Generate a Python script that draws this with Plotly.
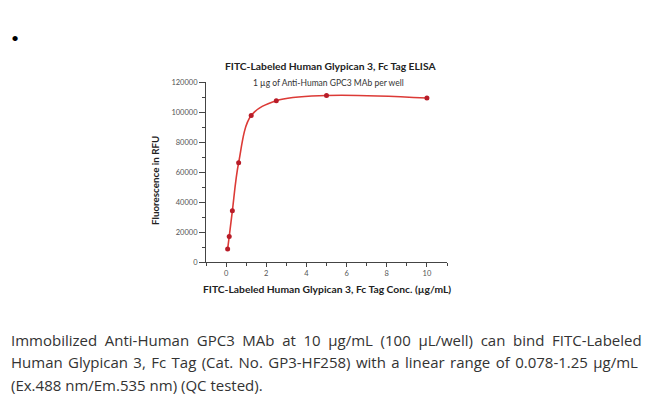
import plotly.graph_objects as go

# ---- data ----
conc = [0.078, 0.156, 0.3125, 0.625, 1.25, 2.5, 5, 10]
rfu = [8700, 17000, 34100, 66200, 97600, 107500, 111000, 109300]
x_ticks = [0, 2, 4, 6, 8, 10]
y_ticks = [0, 20000, 40000, 60000, 80000, 100000, 120000]

title_text = "FITC-Labeled Human Glypican 3, Fc Tag ELISA"
subtitle_text = "1 µg of Anti-Human GPC3 MAb per well"
x_title = "FITC-Labeled Human Glypican 3, Fc Tag Conc. (µg/mL)"
y_title = "Fluorescence in RFU"

caption_lines = [
    "Immobilized Anti-Human GPC3 MAb at 10 µg/mL (100 µL/well) can bind FITC-Labeled",
    "Human Glypican 3, Fc Tag (Cat. No. GP3-HF258) with a linear range of 0.078-1.25 µg/mL",
    "(Ex.488 nm/Em.535 nm) (QC tested).",
]
# extra inter-word spacing per line (to mimic justified text)
caption_gap = ["\u00a0\u2005", "\u00a0\u200a", " "]
line_y = [340, 362, 385]

W, H = 650, 399
L, R, T, B = 206, 203, 82, 137
PW, PH = W - L - R, H - T - B


def px(x):
    return (x - L) / PW


def py(y):
    return (H - B - y) / PH


fig = go.Figure()
fig.add_trace(go.Scatter(
    x=conc, y=rfu, mode="lines+markers",
    line=dict(color="#dc3a36", width=1.6, shape="spline", smoothing=1.0),
    marker=dict(color="#b81c28", size=5),
    showlegend=False, hoverinfo="skip"))

font_tick = dict(family="Lato", size=7.5, color="#555555")
fig.update_xaxes(
    range=[-1, 11], tickvals=x_ticks, ticks="outside", ticklen=4, tickwidth=1,
    tickcolor="#444444", linecolor="#444444", linewidth=1, showline=True,
    showgrid=False, zeroline=False, tickfont=font_tick,
    minor=dict(dtick=1, tick0=1, ticks="outside", ticklen=2.5, tickcolor="#444444"),
    mirror=False)
fig.update_yaxes(
    range=[0, 120000], tickvals=y_ticks, tickformat="d", ticks="outside", ticklen=6, tickwidth=1,
    tickcolor="#444444", linecolor="#444444", linewidth=1, showline=True,
    showgrid=False, zeroline=False, tickfont=font_tick,
    minor=dict(dtick=10000, ticks="outside", ticklen=3, tickcolor="#444444"))

ann = []
ann.append(dict(text="<b>" + title_text + "</b>", x=px(330), y=py(66), xref="paper", yref="paper",
                showarrow=False, xanchor="center", yanchor="middle",
                font=dict(family="Lato", size=10.3, color="#222222")))
ann.append(dict(text=subtitle_text, x=px(328), y=py(83), xref="paper", yref="paper",
                showarrow=False, xanchor="center", yanchor="middle",
                font=dict(family="Lato", size=8.5, color="#333333")))
ann.append(dict(text="<b>" + x_title + "</b>", x=px(326.5), y=py(289), xref="paper", yref="paper",
                showarrow=False, xanchor="center", yanchor="middle",
                font=dict(family="Lato", size=10.3, color="#222222")))
ann.append(dict(text="<b>" + y_title + "</b>", x=px(155), y=py(181), xref="paper", yref="paper",
                showarrow=False, xanchor="center", yanchor="middle", textangle=-90,
                font=dict(family="Lato", size=9.8, color="#222222")))
ann.append(dict(text="•", x=px(15), y=py(37), xref="paper", yref="paper",
                showarrow=False, xanchor="center", yanchor="middle",
                font=dict(family="Lato", size=14, color="#000000")))

cap_font = dict(family="Open Sans", size=15, color="#333333")
for text, gap, yy in zip(caption_lines, caption_gap, line_y):
    ann.append(dict(text=text.replace(" ", gap), x=px(10), y=py(yy), xref="paper", yref="paper",
                    showarrow=False, xanchor="left", yanchor="middle",
                    borderpad=0, font=cap_font))

fig.update_layout(
    width=W, height=H, margin=dict(l=L, r=R, t=T, b=B, autoexpand=False),
    paper_bgcolor="white", plot_bgcolor="white", annotations=ann)

fig.write_html("out.html", config={"displayModeBar": False},
               post_script="document.body.style.margin='0';")
